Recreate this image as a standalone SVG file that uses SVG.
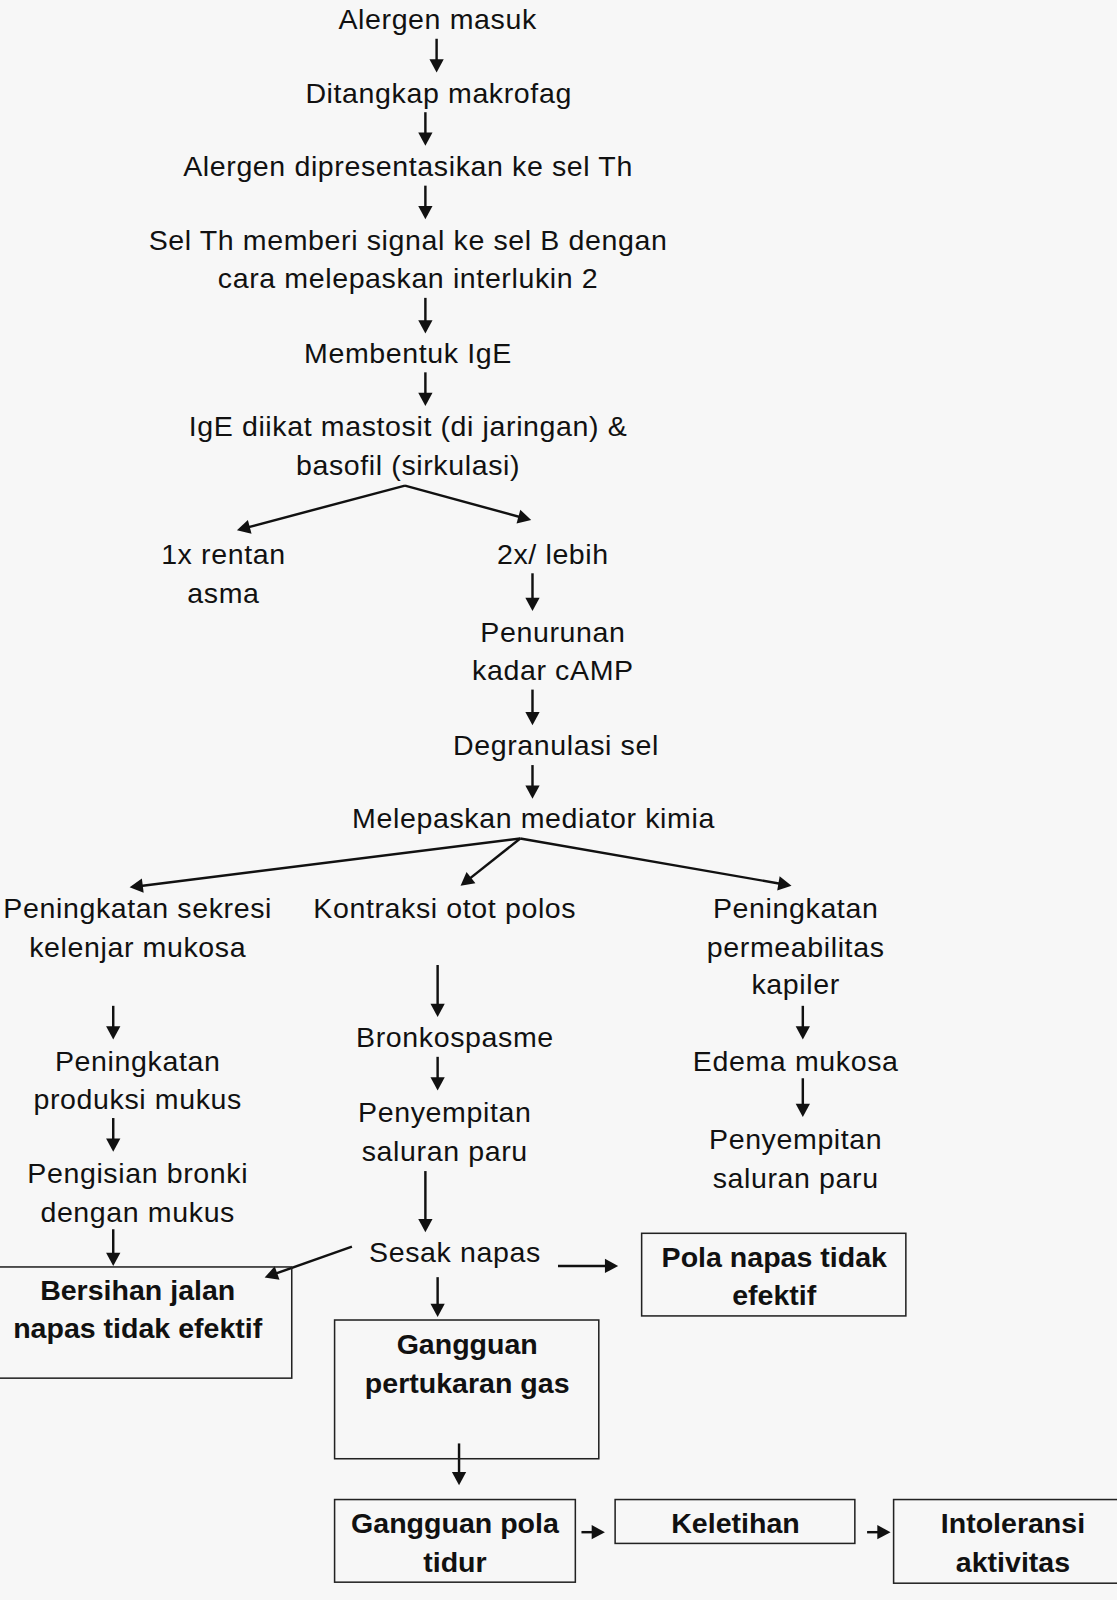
<svg xmlns="http://www.w3.org/2000/svg" width="1117" height="1600" viewBox="0 0 1117 1600">
<style>
text{font-family:"Liberation Sans",Arial,sans-serif;font-size:28px;letter-spacing:0.6px;fill:#111;text-anchor:middle;dominant-baseline:central}
.b{font-weight:bold;letter-spacing:0}
.c{stroke:#111;stroke-width:2.4;fill:none;marker-end:url(#ah)}
.box{fill:none;stroke:#222;stroke-width:1.5}
</style>
<defs><marker id="ah" markerWidth="20" markerHeight="20" refX="10" refY="10" orient="auto" markerUnits="userSpaceOnUse" viewBox="0 0 20 20"><path d="M4,3 L17,10 L4,17 z" fill="#111"/></marker></defs>
<rect width="1117" height="1600" fill="#f7f7f7"/>
<g transform="scale(1.0201)">
<g id="connectors">
<path class="c" d="M428,38V64"/>
<path class="c" d="M417,110V136"/>
<path class="c" d="M417,182V208"/>
<path class="c" d="M417,292V320"/>
<path class="c" d="M417,365V391"/>
<path class="c" d="M397,476L239,518"/>
<path class="c" d="M397,476L514,508"/>
<path class="c" d="M522,562V592"/>
<path class="c" d="M522,676V704"/>
<path class="c" d="M522,750V776"/>
<path class="c" d="M510,822L134,869"/>
<path class="c" d="M510,822L457,864"/>
<path class="c" d="M510,822L769,867"/>
<path class="c" d="M111,986V1012"/>
<path class="c" d="M429,946V990"/>
<path class="c" d="M787,986V1012"/>
<path class="c" d="M429,1036V1062"/>
<path class="c" d="M787,1057V1088"/>
<path class="c" d="M111,1096V1122"/>
<path class="c" d="M111,1205V1234"/>
<path class="c" d="M417,1148V1201"/>
<path class="c" d="M345,1222L266,1250"/>
<path class="c" d="M547,1241H599"/>
<path class="c" d="M429,1252V1284"/>
<path class="c" d="M450,1415V1449"/>
<path class="c" d="M570,1502H586"/>
<path class="c" d="M850,1502H866"/>
</g>
<g id="n1"><text x="429" y="19">Alergen masuk</text></g>
<g id="n2"><text x="430" y="91">Ditangkap makrofag</text></g>
<g id="n3"><text x="400" y="163">Alergen dipresentasikan ke sel Th</text></g>
<g id="n4"><text x="400" y="235">Sel Th memberi signal ke sel B dengan</text><text x="400" y="273">cara melepaskan interlukin 2</text></g>
<g id="n5"><text x="400" y="346">Membentuk IgE</text></g>
<g id="n6"><text x="400" y="418">IgE diikat mastosit (di jaringan) &amp;</text><text x="400" y="456">basofil (sirkulasi)</text></g>
<g id="n7"><text x="219" y="543">1x rentan</text><text x="219" y="581">asma</text></g>
<g id="n8"><text x="542" y="543">2x/ lebih</text></g>
<g id="n9"><text x="542" y="620">Penurunan</text><text x="542" y="657">kadar cAMP</text></g>
<g id="n10"><text x="545" y="730">Degranulasi sel</text></g>
<g id="n11"><text x="523" y="802">Melepaskan mediator kimia</text></g>
<g id="n12"><text x="135" y="890">Peningkatan sekresi</text><text x="135" y="928">kelenjar mukosa</text></g>
<g id="n13"><text x="436" y="890">Kontraksi otot polos</text></g>
<g id="n14"><text x="780" y="890">Peningkatan</text><text x="780" y="928">permeabilitas</text><text x="780" y="965">kapiler</text></g>
<g id="n15"><text x="135" y="1040">Peningkatan</text><text x="135" y="1077">produksi mukus</text></g>
<g id="n16"><text x="446" y="1017">Bronkospasme</text></g>
<g id="n17"><text x="780" y="1040">Edema mukosa</text></g>
<g id="n18"><text x="436" y="1090">Penyempitan</text><text x="436" y="1128">saluran paru</text></g>
<g id="n19"><text x="780" y="1117">Penyempitan</text><text x="780" y="1155">saluran paru</text></g>
<g id="n20"><text x="135" y="1150">Pengisian bronki</text><text x="135" y="1188">dengan mukus</text></g>
<g id="n21"><text x="446" y="1227">Sesak napas</text></g>
<g id="n22"><rect class="box" x="-2" y="1242" width="288" height="109"/><text class="b" x="135" y="1265">Bersihan jalan</text><text class="b" x="135" y="1302">napas tidak efektif</text></g>
<g id="n23"><rect class="box" x="629" y="1209" width="259" height="81"/><text class="b" x="759" y="1232">Pola napas tidak</text><text class="b" x="759" y="1269">efektif</text></g>
<g id="n24"><rect class="box" x="328" y="1294" width="259" height="136"/><text class="b" x="458" y="1318">Gangguan</text><text class="b" x="458" y="1356">pertukaran gas</text></g>
<g id="n25"><rect class="box" x="328" y="1470" width="236" height="81"/><text class="b" x="446" y="1493">Gangguan pola</text><text class="b" x="446" y="1531">tidur</text></g>
<g id="n26"><rect class="box" x="603" y="1470" width="235" height="43"/><text class="b" x="721" y="1493">Keletihan</text></g>
<g id="n27"><rect class="box" x="876" y="1470" width="222" height="82"/><text class="b" x="993" y="1493">Intoleransi</text><text class="b" x="993" y="1531">aktivitas</text></g>
</g>
</svg>
